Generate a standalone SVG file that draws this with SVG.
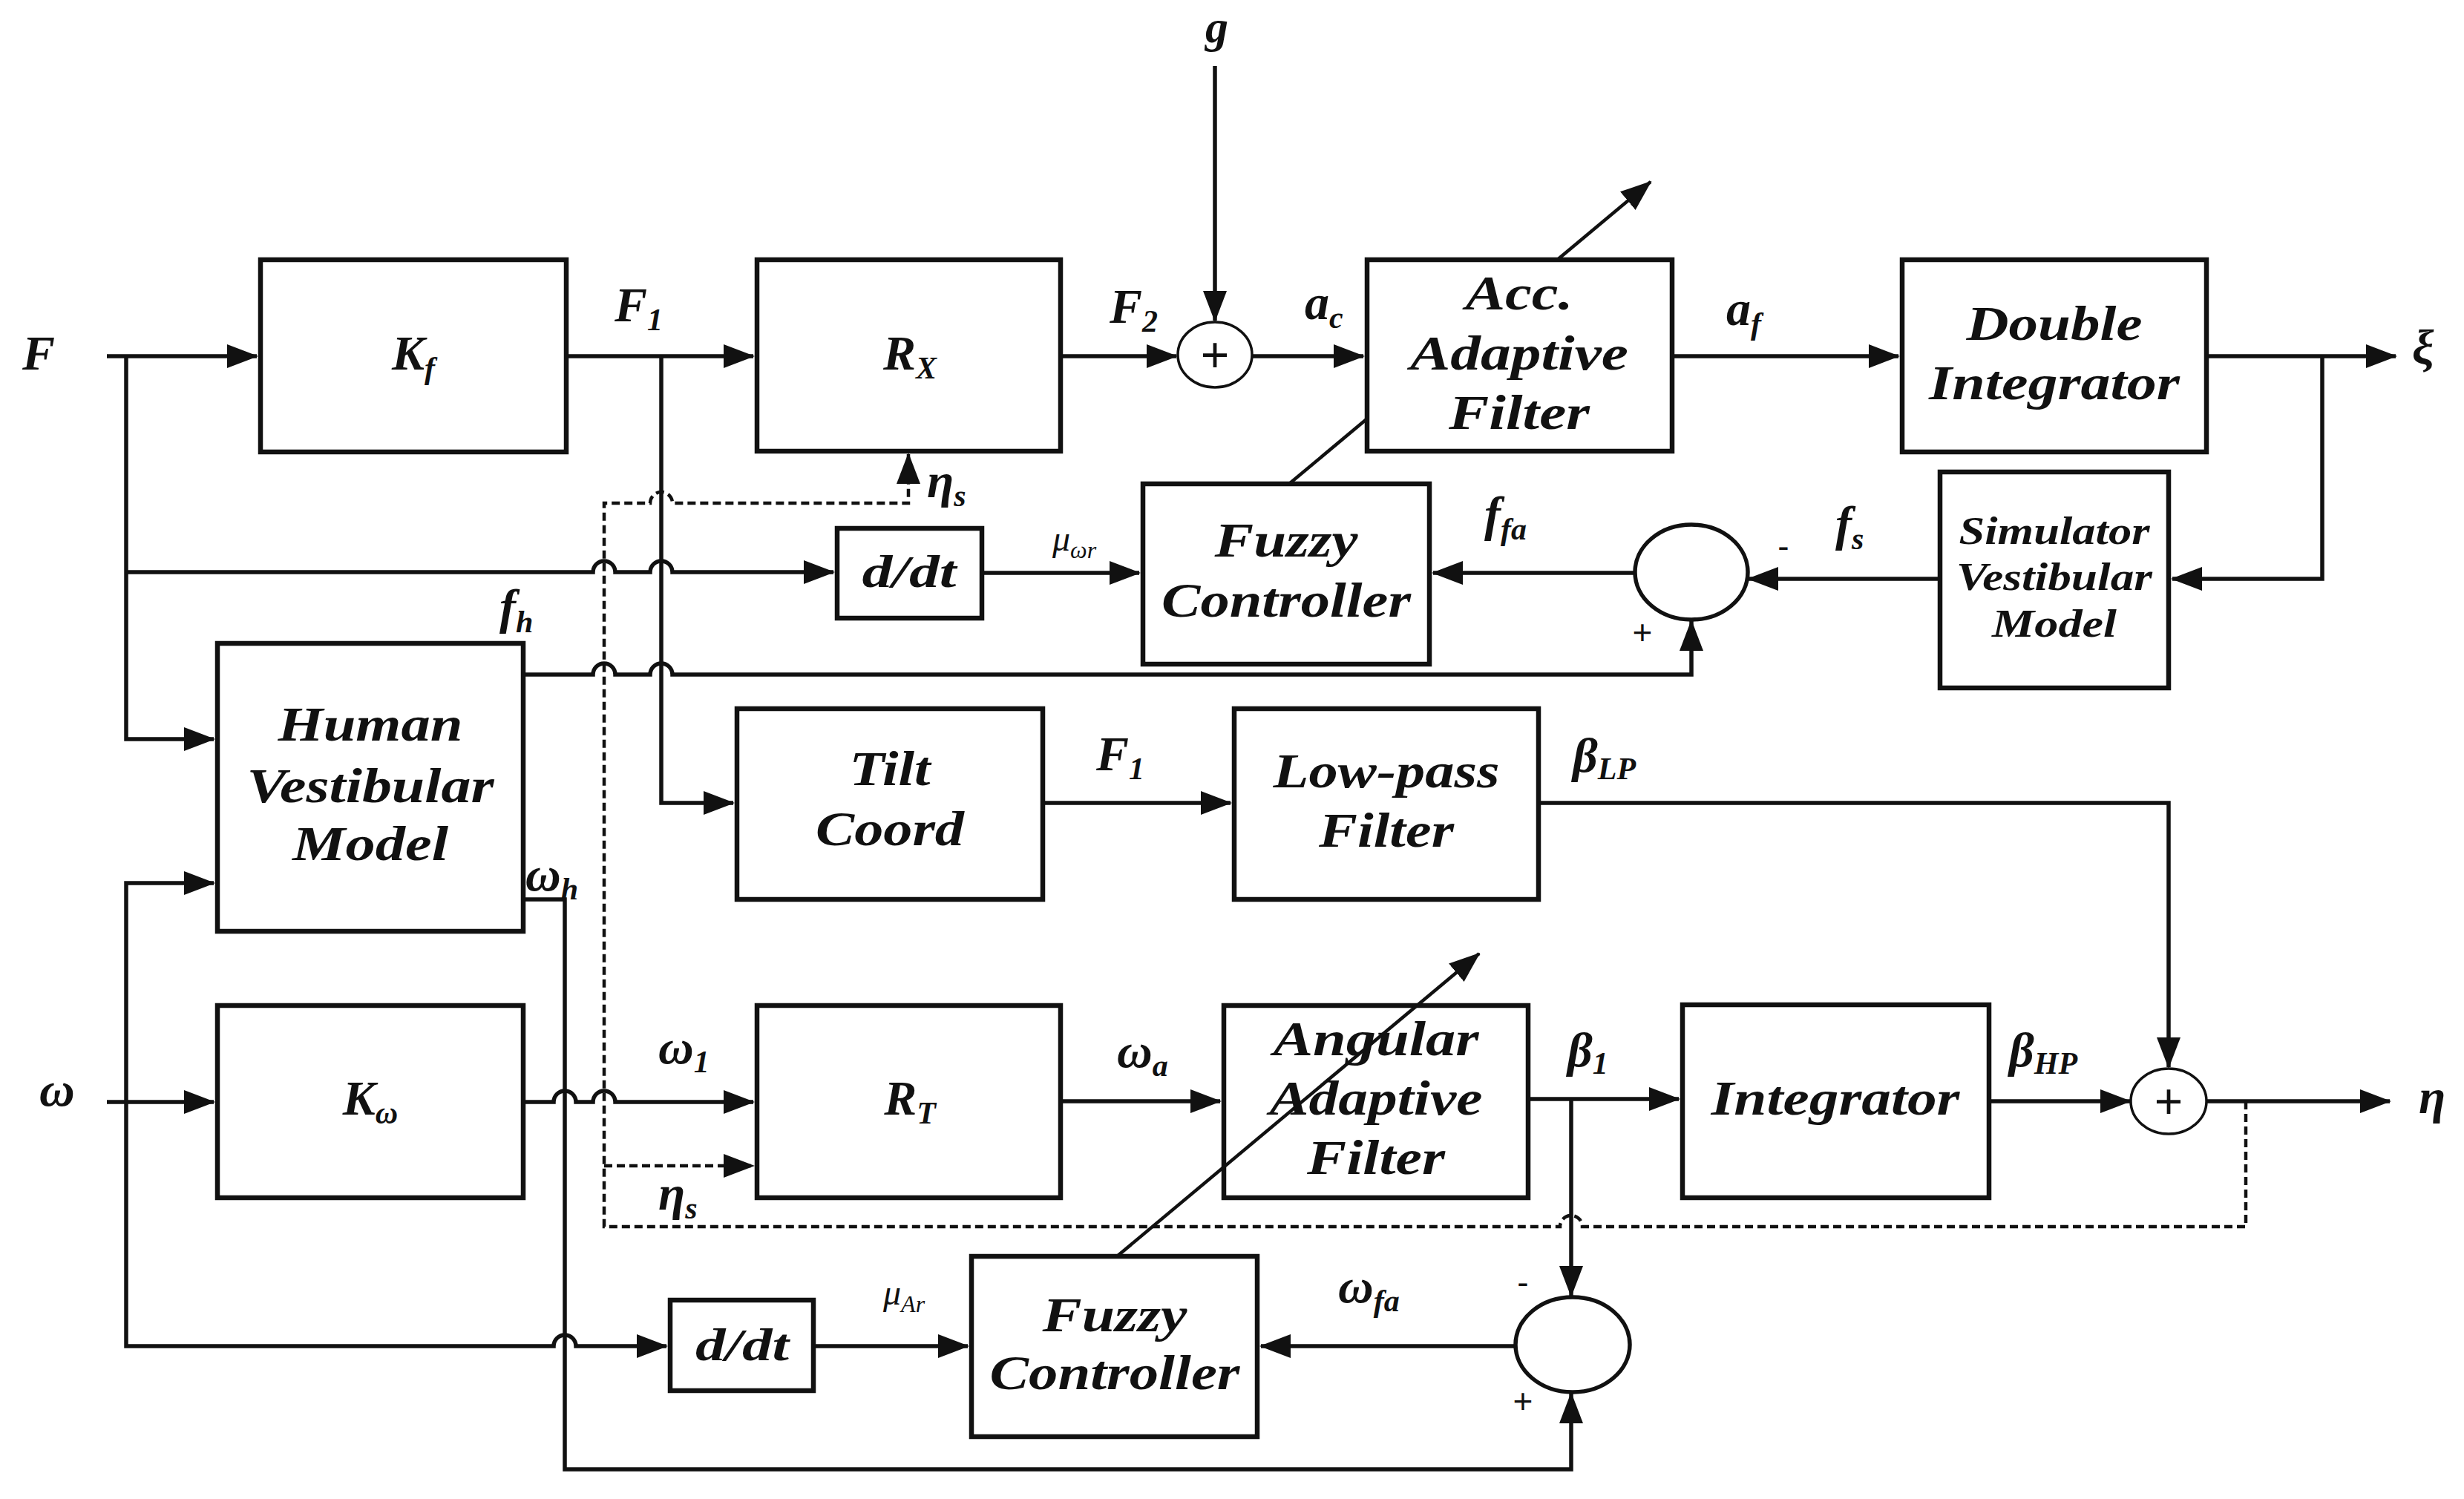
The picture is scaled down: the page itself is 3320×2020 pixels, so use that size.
<svg xmlns="http://www.w3.org/2000/svg" width="3320" height="2020" viewBox="0 0 3320 2020">
<defs>
<style>
.box{fill:#fff;stroke:#111;stroke-width:6.5}
.sum{fill:#fff;stroke:#111;stroke-width:3.5}
.sum2{fill:#fff;stroke:#111;stroke-width:5.5}
.c{fill:none;stroke:#111;stroke-width:5.5;marker-end:url(#ah)}
.d{fill:none;stroke:#111;stroke-width:4.5;stroke-dasharray:11 6}
.da{fill:none;stroke:#111;stroke-width:4.5;stroke-dasharray:11 6;marker-end:url(#ah)}
.dg{fill:none;stroke:#111;stroke-width:4.5;marker-end:url(#ah)}
.bl{font-family:"Liberation Serif","Times New Roman",serif;font-weight:bold;font-style:italic;font-size:66px;text-anchor:middle;fill:#111}
.sg{font-family:"Liberation Serif","Times New Roman",serif;font-weight:bold;font-style:italic;font-size:66px;fill:#111}
.sub{font-size:42px}
.sm{font-family:"Liberation Serif","Times New Roman",serif;font-style:italic;font-size:48px;fill:#111}
.smsub{font-size:32px}
.pm{font-family:"Liberation Sans",Arial,sans-serif;font-size:46px;text-anchor:middle;fill:#111}
.pl{font-family:"Liberation Sans",Arial,sans-serif;font-size:66px;text-anchor:middle;fill:#111}
</style>
<marker id="ah" markerUnits="userSpaceOnUse" markerWidth="42" markerHeight="32" viewBox="0 0 42 32" refX="40" refY="16" orient="auto">
<path d="M0,0 L42,16 L0,32 z" fill="#111"/>
</marker>
</defs>
<rect width="3320" height="2020" fill="#fff"/>

<g id="connectors">
<path class="c" d="M144,480 H346"/>
<path class="c" d="M170,480 V996 H288"/>
<path class="c" d="M170,771 H799 a15,15 0 0 1 30,0 H876 a15,15 0 0 1 30,0 H1123"/>
<path class="c" d="M763,480 H1015"/>
<path class="c" d="M891,480 V1082 H988"/>
<path class="c" d="M1429,480 H1585"/>
<path class="c" d="M1637,89 V432"/>
<path class="c" d="M1687,480 H1837"/>
<path class="c" d="M2253,480 H2558"/>
<path class="c" d="M2973,480 H3228"/>
<path class="c" d="M3129,480 V780 H2927"/>
<path class="c" d="M2614,780 H2356"/>
<path class="c" d="M2203,772 H1931"/>
<path class="c" d="M1323,772 H1535"/>
<path class="c" d="M705,909 H799 a15,15 0 0 1 30,0 H876 a15,15 0 0 1 30,0 H2279 V837"/>
<path class="dg" d="M1737,652 L2224,245"/>
<path class="c" d="M1405,1082 H1658"/>
<path class="c" d="M2073,1082 H2922 V1438"/>
<path class="c" d="M144,1485 H288"/>
<path class="c" d="M170,1485 V1190 H288"/>
<path class="c" d="M170,1485 V1814 H746 a15,15 0 0 1 30,0 H898"/>
<path class="c" d="M705,1485 H746 a15,15 0 0 1 30,0 H799 a15,15 0 0 1 30,0 H1015"/>
<path class="c" d="M1429,1484 H1644"/>
<path class="c" d="M2059,1481 H2262"/>
<path class="c" d="M2117,1481 V1746"/>
<path class="c" d="M2680,1484 H2870"/>
<path class="c" d="M2973,1484 H3220"/>
<path class="c" d="M705,1212 H761 V1980 H2117 V1878"/>
<path class="c" d="M1096,1814 H1304"/>
<path class="c" d="M2042,1814 H1699"/>
<path class="da" d="M3026,1484 V1653 H2132 a15,15 0 0 0 -30,0 H814 V678 H876 a15,15 0 0 1 30,0 H1224 V612"/>
<path class="da" d="M814,1571 H1015"/>
</g>

<g id="n-Kf"><rect class="box" x="351" y="350" width="412" height="259"/>
<text class="bl" x="557" y="498">K<tspan class="sub" dy="12">f</tspan></text></g>
<g id="n-RX"><rect class="box" x="1020" y="350" width="409" height="258"/>
<text class="bl" x="1226" y="498">R<tspan class="sub" dy="12">X</tspan></text></g>
<g id="n-sum1"><ellipse class="sum" cx="1637" cy="478" rx="50" ry="44"/>
<text class="pl" x="1637" y="501">+</text></g>
<g id="n-acc"><rect class="box" x="1842" y="350" width="411" height="258"/>
<text class="bl" x="2047" y="417" textLength="145" lengthAdjust="spacingAndGlyphs">Acc.</text>
<text class="bl" x="2047" y="498" textLength="294" lengthAdjust="spacingAndGlyphs">Adaptive</text>
<text class="bl" x="2047" y="578" textLength="190" lengthAdjust="spacingAndGlyphs">Filter</text></g>
<g id="n-di"><rect class="box" x="2563" y="350" width="410" height="259"/>
<text class="bl" x="2768" y="458" textLength="237" lengthAdjust="spacingAndGlyphs">Double</text>
<text class="bl" x="2768" y="538" textLength="338" lengthAdjust="spacingAndGlyphs">Integrator</text></g>
<g id="n-sim"><rect class="box" x="2614" y="636" width="308" height="291"/>
<text class="bl" style="font-size:52px" x="2768" y="733" textLength="257" lengthAdjust="spacingAndGlyphs">Simulator</text>
<text class="bl" style="font-size:52px" x="2768" y="795" textLength="264" lengthAdjust="spacingAndGlyphs">Vestibular</text>
<text class="bl" style="font-size:52px" x="2768" y="858" textLength="168" lengthAdjust="spacingAndGlyphs">Model</text></g>
<g id="n-sum2"><ellipse class="sum2" cx="2279" cy="771" rx="76" ry="64"/></g>
<g id="n-fuzzy1"><rect class="box" x="1540" y="652" width="386" height="243"/>
<text class="bl" x="1733" y="750" textLength="193" lengthAdjust="spacingAndGlyphs">Fuzzy</text>
<text class="bl" x="1733" y="831" textLength="336" lengthAdjust="spacingAndGlyphs">Controller</text></g>
<g id="n-ddt1"><rect class="box" x="1128" y="712" width="195" height="121"/>
<text class="bl" style="font-size:62px" x="1225" y="791" textLength="127" lengthAdjust="spacingAndGlyphs">d/dt</text></g>
<g id="n-hvm"><rect class="box" x="293" y="867" width="412" height="388"/>
<text class="bl" x="499" y="998" textLength="249" lengthAdjust="spacingAndGlyphs">Human</text>
<text class="bl" x="499" y="1081" textLength="333" lengthAdjust="spacingAndGlyphs">Vestibular</text>
<text class="bl" x="499" y="1159" textLength="210" lengthAdjust="spacingAndGlyphs">Model</text></g>
<g id="n-tilt"><rect class="box" x="993" y="955" width="412" height="257"/>
<text class="bl" x="1199" y="1058" textLength="109" lengthAdjust="spacingAndGlyphs">Tilt</text>
<text class="bl" x="1199" y="1139" textLength="200" lengthAdjust="spacingAndGlyphs">Coord</text></g>
<g id="n-lp"><rect class="box" x="1663" y="955" width="410" height="257"/>
<text class="bl" x="1868" y="1061" textLength="305" lengthAdjust="spacingAndGlyphs">Low-pass</text>
<text class="bl" x="1868" y="1141" textLength="182" lengthAdjust="spacingAndGlyphs">Filter</text></g>
<g id="n-Kw"><rect class="box" x="293" y="1355" width="412" height="259"/>
<text class="bl" x="499" y="1502">K<tspan class="sub" dy="12">ω</tspan></text></g>
<g id="n-RT"><rect class="box" x="1020" y="1355" width="409" height="259"/>
<text class="bl" x="1226" y="1502">R<tspan class="sub" dy="12">T</tspan></text></g>
<g id="n-ang"><rect class="box" x="1649" y="1355" width="410" height="259"/>
<text class="bl" x="1854" y="1422" textLength="277" lengthAdjust="spacingAndGlyphs">Angular</text>
<text class="bl" x="1854" y="1502" textLength="287" lengthAdjust="spacingAndGlyphs">Adaptive</text>
<text class="bl" x="1854" y="1582" textLength="186" lengthAdjust="spacingAndGlyphs">Filter</text></g>
<g id="n-int"><rect class="box" x="2267" y="1354" width="413" height="260"/>
<text class="bl" x="2473" y="1502" textLength="335" lengthAdjust="spacingAndGlyphs">Integrator</text></g>
<g id="n-sum3"><ellipse class="sum" cx="2922" cy="1484" rx="51" ry="44"/>
<text class="pl" x="2922" y="1507">+</text></g>
<g id="n-sum4"><ellipse class="sum2" cx="2119" cy="1812" rx="77" ry="64"/></g>
<g id="n-fuzzy2"><rect class="box" x="1309" y="1693" width="385" height="243"/>
<text class="bl" x="1502" y="1794" textLength="195" lengthAdjust="spacingAndGlyphs">Fuzzy</text>
<text class="bl" x="1502" y="1872" textLength="337" lengthAdjust="spacingAndGlyphs">Controller</text></g>
<g id="n-ddt2"><rect class="box" x="903" y="1752" width="193" height="122"/>
<text class="bl" style="font-size:62px" x="1000" y="1833" textLength="126" lengthAdjust="spacingAndGlyphs">d/dt</text></g>

<g id="connectors-over">
<path class="dg" d="M1505,1693 L1993,1285"/>
</g>

<g id="labels">
<text class="sg" x="30" y="498">F</text>
<text class="sg" x="828" y="433">F<tspan class="sub" dy="12">1</tspan></text>
<text class="sg" x="1495" y="435">F<tspan class="sub" dy="12">2</tspan></text>
<text class="sg" x="1758" y="430">a<tspan class="sub" dy="12">c</tspan></text>
<text class="sg" x="2326" y="438">a<tspan class="sub" dy="12">f</tspan></text>
<text class="sg" style="font-size:62px" x="1624" y="57">g</text>
<text class="sg" x="3250" y="490">ξ</text>
<text class="sg" x="2000" y="715">f<tspan class="sub" dy="12">fa</tspan></text>
<text class="pm" x="2403" y="752">-</text>
<text class="sg" x="2473" y="728">f<tspan class="sub" dy="12">s</tspan></text>
<text class="pm" x="2213" y="868">+</text>
<text class="sg" x="673" y="840">f<tspan class="sub" dy="12">h</tspan></text>
<text class="sg" x="708" y="1200">ω<tspan class="sub" dy="12">h</tspan></text>
<text class="sg" x="1477" y="1038">F<tspan class="sub" dy="12">1</tspan></text>
<text class="sg" x="2119" y="1040">β<tspan class="sub" dy="10">LP</tspan></text>
<text class="sg" x="887" y="1433">ω<tspan class="sub" dy="12">1</tspan></text>
<text class="sg" x="887" y="1630">η<tspan class="sub" dy="12">s</tspan></text>
<text class="sg" x="1249" y="670">η<tspan class="sub" dy="12">s</tspan></text>
<text class="sg" x="1505" y="1438">ω<tspan class="sub" dy="12">a</tspan></text>
<text class="sg" x="2112" y="1437">β<tspan class="sub" dy="10">1</tspan></text>
<text class="sg" x="2707" y="1437">β<tspan class="sub" dy="10">HP</tspan></text>
<text class="sg" x="3259" y="1500">η</text>
<text class="sg" x="53" y="1490">ω</text>
<text class="sg" x="1803" y="1755">ω<tspan class="sub" dy="12">fa</tspan></text>
<text class="sm" x="1418" y="742">μ<tspan class="smsub" dy="10">ωr</tspan></text>
<text class="sm" x="1190" y="1758">μ<tspan class="smsub" dy="10">Ar</tspan></text>
<text class="pm" x="2052" y="1744">-</text>
<text class="pm" x="2052" y="1904">+</text>
</g>
</svg>
